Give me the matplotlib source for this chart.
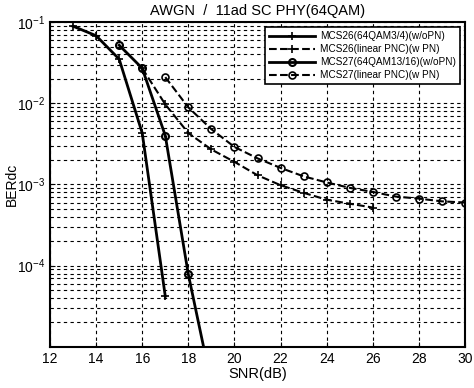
import numpy as np
import matplotlib
matplotlib.use("Agg")
import matplotlib.pyplot as plt

plt.rcParams['font.family'] = ['Liberation Sans', 'DejaVu Sans']
plt.rcParams['mathtext.default'] = 'regular'

# MCS26 without phase noise
snr_26 = [13, 14, 15, 16, 17]
ber_26 = [0.089, 0.068, 0.035, 0.0043, 4.2e-5]

# MCS26 with linear PNC
snr_26p = [16, 17, 18, 19, 20, 21, 22, 23, 24, 25, 26]
ber_26p = [0.027, 0.0097, 0.0043, 0.0027, 0.0019, 0.0013, 0.00098,
           0.00079, 0.00065, 0.00058, 0.00052]

# MCS27 without phase noise
snr_27 = [15, 16, 17, 18, 19]
ber_27 = [0.052, 0.027, 0.0040, 7.8e-5, 3.5e-6]

# MCS27 with linear PNC
snr_27p = [17, 18, 19, 20, 21, 22, 23, 24, 25, 26, 27, 28, 29, 30]
ber_27p = [0.021, 0.0089, 0.0048, 0.0029, 0.0021, 0.0016, 0.00126,
           0.00106, 0.00091, 0.00081, 0.00071, 0.00067, 0.00062, 0.00060]

labels = ['MCS26(64QAM3/4)(w/oPN)', 'MCS26(linear PNC)(w PN)',
          'MCS27(64QAM13/16)(w/oPN)', 'MCS27(linear PNC)(w PN)']

fig = plt.figure(figsize=(4.74, 3.88), dpi=100)
ax = fig.add_axes([0.1055, 0.106, 0.8755, 0.837])

ax.semilogy(snr_26, ber_26, 'k-', marker='+', ms=6, mew=1.2, lw=2, label=labels[0])
ax.semilogy(snr_26p, ber_26p, 'k--', marker='+', ms=6, mew=1.2, lw=1.5, label=labels[1])
ax.semilogy(snr_27, ber_27, 'k-', marker='o', ms=5, mfc='none', mew=1.5, lw=2, label=labels[2])
ax.semilogy(snr_27p, ber_27p, 'k--', marker='o', ms=5, mfc='none', mew=1.2, lw=1.5, label=labels[3])

ax.set_xlim(12, 30)
ax.set_ylim(1e-5, 1e-1)
ax.set_xticks(np.arange(12, 31, 2))
ax.set_yticks([1e-4, 1e-3, 1e-2, 1e-1])
ax.tick_params(which='both', direction='in', labelsize=10)
ax.grid(True, which='major', color='k', ls=(0, (3, 3)), lw=0.8)
ax.grid(True, which='minor', axis='y', color='k', ls=(0, (3, 3)), lw=0.8)
for s in ax.spines.values():
    s.set_linewidth(1.5)

ax.set_title('AWGN  /  11ad SC PHY(64QAM)', fontsize=10.5, pad=5)
ax.set_xlabel('SNR(dB)', fontsize=10.5, labelpad=1)
ax.set_ylabel('BERdc', fontsize=10)
ax.yaxis.set_label_coords(-0.074, 0.5)

leg = ax.legend(loc='upper right', fontsize=7.2, frameon=True, fancybox=False,
                edgecolor='k', framealpha=1, handlelength=4.6, handletextpad=0.5,
                borderaxespad=0.5, borderpad=0.4, labelspacing=0.3)
leg.get_frame().set_linewidth(1.2)

fig.savefig('out.png', dpi=100)
